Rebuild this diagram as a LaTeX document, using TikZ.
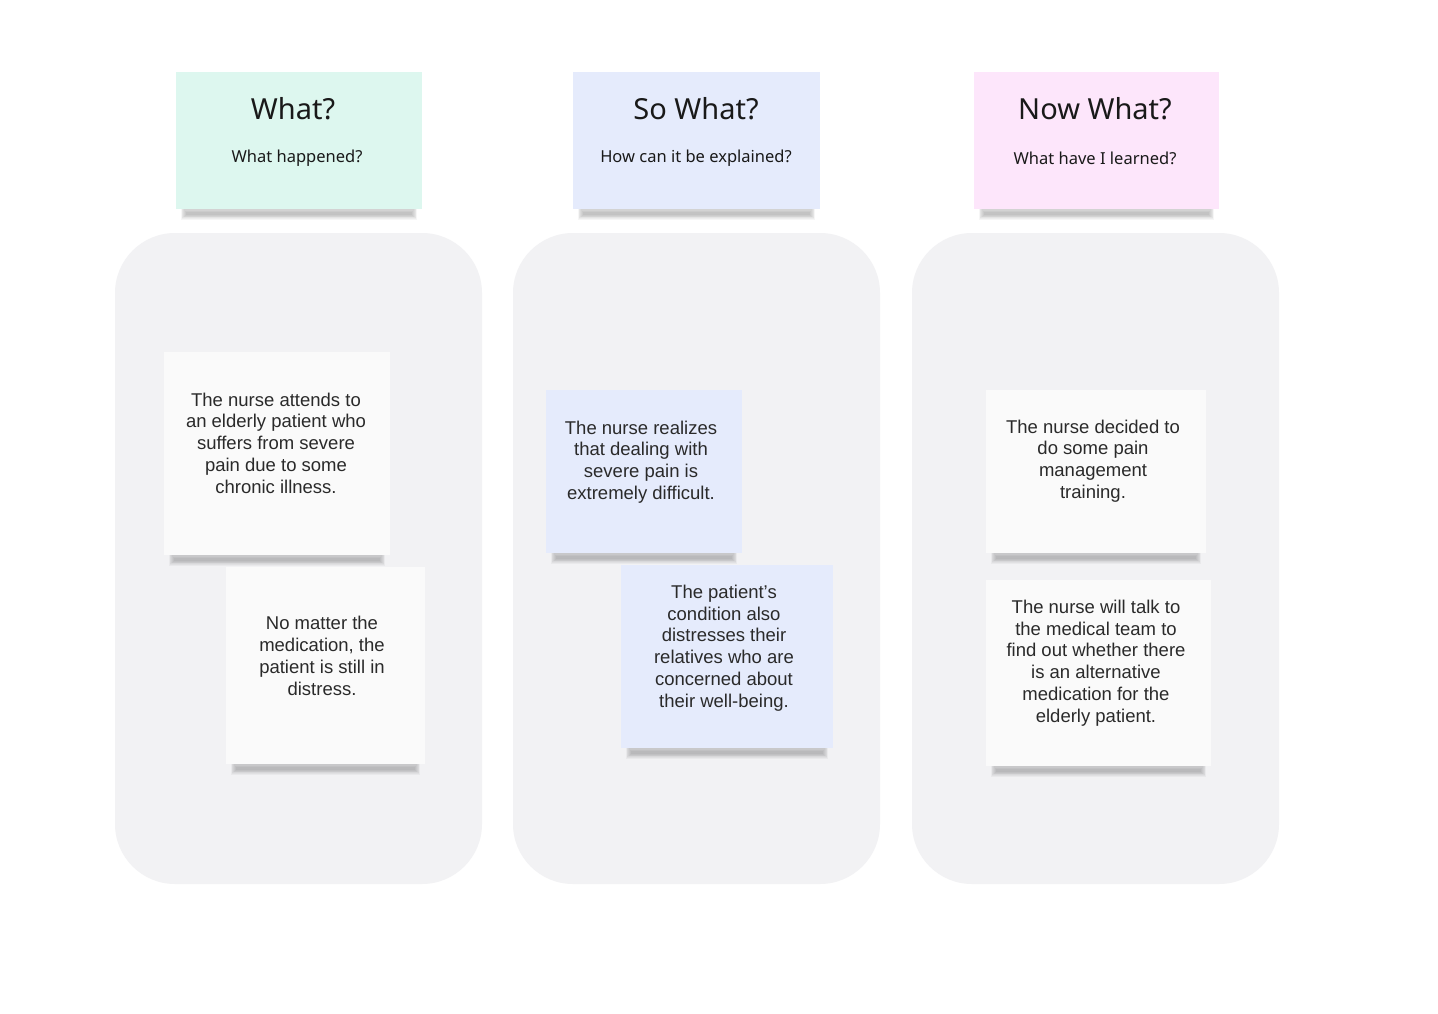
\documentclass[tikz,border=0pt]{standalone}
\usepackage{fontspec}
\setmainfont{Liberation Sans}
\newfontfamily\headfont{Noto Sans}
\usetikzlibrary{calc}
\definecolor{colbg}{HTML}{F2F2F4}
\definecolor{hgreen}{HTML}{DDF7EF}
\definecolor{hblue}{HTML}{E5EBFC}
\definecolor{hpink}{HTML}{FDE6FB}
\definecolor{cardw}{HTML}{FAFAFA}
\definecolor{txt}{HTML}{2A2A2A}
\newcommand{\softshadow}[4]{%
  \foreach \i in {1,...,8}{
    \fill[black, opacity=0.035] ($(#1+\i*0.8+4,#4-8+\i*1.6)$) rectangle ($(#3-\i*0.8-4,#4+12-\i*0.9)$);
  }}
\tikzset{
  colbox/.style={fill=colbg, rounded corners=60pt},
  cardtext/.style={align=center, text=txt, font=\fontsize{18.5}{21.8}\selectfont},
  htitle/.style={font=\headfont\fontsize{29}{34}\selectfont, text=black!90},
  hsub/.style={font=\headfont\fontsize{16.5}{20}\selectfont, text=black!90},
}
\begin{document}
\begin{tikzpicture}[x=1pt,y=-1pt]
\useasboundingbox[fill=white] (0,0) rectangle (1438,1014);
\fill[colbox] (115,233) rectangle (482,884);
\fill[colbox] (513,233) rectangle (880,884);
\fill[colbox] (912,233) rectangle (1279,884);
% headers
\softshadow{176}{72}{422}{209}
\softshadow{573}{72}{820}{209}
\softshadow{974}{72}{1219}{209}
\fill[hgreen] (176,72) rectangle (422,209);
\fill[hblue] (573,72) rectangle (820,209);
\fill[hpink] (974,72) rectangle (1219,209);
\node[htitle] (t1) at (293,109) {What?};
\node[hsub] (s1) at (297,158) {What happened?};
\node[htitle] (t2) at (696,109) {So What?};
\node[hsub] (s2) at (696,158) {How can it be explained?};
\node[htitle] (t3) at (1095,109) {Now What?};
\node[hsub] (s3) at (1095,158) {What have I learned?};
% cards
\softshadow{164}{352}{390}{555}
\fill[cardw] (164,352) rectangle (390,555);
\node[cardtext] (c1) at (276,443) {The nurse attends to\\an elderly patient who\\suffers from severe\\pain due to some\\chronic illness.};
\softshadow{226}{567}{425}{764}
\fill[cardw] (226,567) rectangle (425,764);
\node[cardtext] (c2) at (322,656) {No matter the\\medication, the\\patient is still in\\distress.};
\softshadow{546}{390}{742}{553}
\fill[hblue] (546,390) rectangle (742,553);
\node[cardtext] (c3) at (641,462) {The nurse realizes\\that dealing with\\severe pain is\\extremely difficult.};
\softshadow{621}{565}{833}{748}
\fill[hblue] (621,565) rectangle (833,748);
\node[cardtext] (c4) at (724,648) {The patient’s\\condition also\\distresses their\\relatives who are\\concerned about\\their well-being.};
\softshadow{986}{390}{1206}{553}
\fill[cardw] (986,390) rectangle (1206,553);
\node[cardtext] (c5) at (1093,461) {The nurse decided to\\do some pain\\management\\training.};
\softshadow{986}{580}{1211}{766}
\fill[cardw] (986,580) rectangle (1211,766);
\node[cardtext] (c6) at (1096,663) {The nurse will talk to\\the medical team to\\find out whether there\\is an alternative\\medication for the\\elderly patient.};
\end{tikzpicture}
\end{document}
